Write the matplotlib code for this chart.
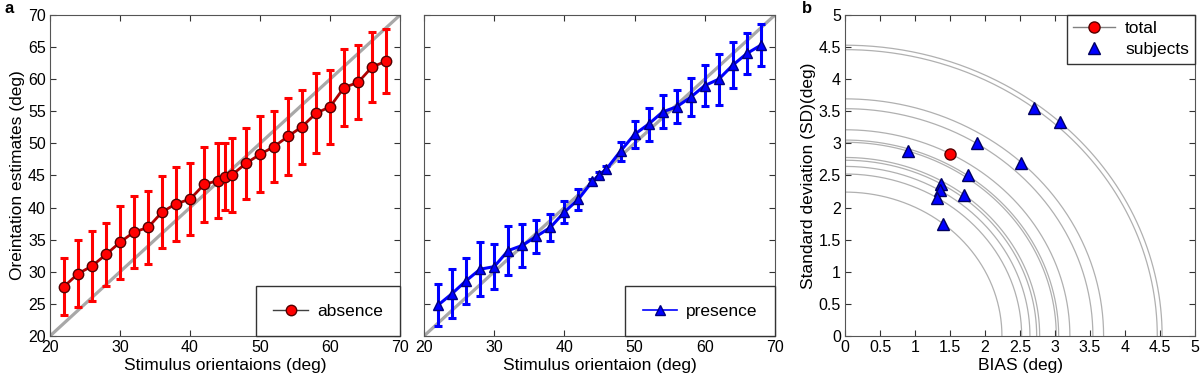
import numpy as np
import matplotlib
matplotlib.use('Agg')
from matplotlib import pyplot as plt
from matplotlib.lines import Line2D

plt.rcParams['font.family'] = ['Liberation Sans', 'DejaVu Sans']

# stimulus orientations (deg)
stim = [22, 24, 26, 28, 30, 32, 34, 36, 38, 40, 42, 44, 45, 46,
        48, 50, 52, 54, 56, 58, 60, 62, 64, 66, 68]

# estimates without the context
absence_mean = [27.7, 29.7, 30.9, 32.7, 34.6, 36.2, 36.9, 39.3, 40.6, 41.3,
                43.6, 44.2, 44.8, 45.1, 46.9, 48.3, 49.5, 51.1, 52.6, 54.7,
                55.7, 58.7, 59.5, 61.9, 62.8]
absence_err = [4.4, 5.25, 5.5, 4.95, 5.67, 5.67, 5.75, 5.62, 5.78, 5.58,
               5.85, 5.9, 5.2, 5.8, 5.55, 5.9, 5.5, 6.0, 5.75, 6.22,
               5.75, 6.02, 5.75, 5.47, 5.02]

# estimates with the context
presence_mean = [24.8, 26.6, 28.6, 30.4, 30.8, 33.3, 34.1, 35.5, 36.9, 39.3,
                 41.3, 44.1, 45.1, 46.0, 48.8, 51.4, 53.0, 54.9, 55.7, 57.2,
                 59.0, 60.0, 62.2, 64.0, 65.3]
presence_err = [3.3, 3.8, 3.55, 4.23, 3.5, 3.84, 3.4, 2.5, 2.15, 1.68,
                1.64, 0.4, 0.4, 0.4, 1.48, 2.07, 2.57, 2.57, 2.57, 2.94,
                3.25, 3.97, 3.56, 3.2, 3.3]

# panel b
subj_bias = [0.9, 1.88, 2.7, 3.07, 2.52, 1.75, 1.37, 1.35, 1.32, 1.7, 1.4]
subj_sd = [2.88, 3.0, 3.55, 3.33, 2.7, 2.5, 2.37, 2.27, 2.15, 2.2, 1.75]
total_bias = 1.5
total_sd = 2.84


def style_ax(ax):
    ax.tick_params(direction='in', top=True, right=True, labelsize=11.5,
                   length=4, pad=3, color='#333333')
    for s in ax.spines.values():
        s.set_color('#555555')
        s.set_linewidth(0.8)


fig = plt.figure(figsize=(12, 3.79), dpi=100)
ax1 = fig.add_axes([0.0417, 0.1135, 0.2917, 0.847])
ax2 = fig.add_axes([0.3533, 0.1135, 0.2925, 0.847])
ax3 = fig.add_axes([0.7042, 0.1135, 0.2917, 0.847])

diag = [20, 70]
for ax in (ax1, ax2):
    ax.plot(diag, diag, color='#a8a8a8', lw=2.3, zorder=1)
    ax.set_xlim(20, 70)
    ax.set_ylim(20, 70)
    ax.set_xticks(np.arange(20, 71, 10))
    ax.set_yticks(np.arange(20, 71, 5))
    style_ax(ax)

leg_kw = dict(loc='lower right', fontsize=12.5, fancybox=False,
              edgecolor='#333333', borderpad=1.0, handlelength=2.0,
              handletextpad=0.5, framealpha=1, borderaxespad=0)

ax1.errorbar(stim, absence_mean, yerr=absence_err, color='#b00000',
             ecolor='#ff0000', elinewidth=2.2, capsize=3, capthick=2.2,
             lw=2, marker='o', ms=7.5, mfc='#ff0000', mec='#550000', zorder=3)
ax1.set_xlabel('Stimulus orientaions (deg)', fontsize=12.5, labelpad=2)
ax1.set_ylabel('Oreintation estimates (deg)', fontsize=12.5, labelpad=2)
ax1.legend([Line2D([], [], color='#404040', lw=1, marker='o', ms=7.5,
                   mfc='#ff0000', mec='#550000')], ['absence'], **leg_kw)

ax2.errorbar(stim, presence_mean, yerr=presence_err, color='#0000ff',
             ecolor='#0000ff', elinewidth=2.2, capsize=3, capthick=2.2,
             lw=2.2, marker='^', ms=7.5, mfc='#0000ff', mec='#000080', zorder=3)
ax2.set_xlabel('Stimulus orientaion (deg)', fontsize=12.5, labelpad=2)
ax2.set_yticklabels([])
ax2.legend([Line2D([], [], color='#0000ff', lw=1.2, marker='^', ms=7.5,
                   mfc='#0000ff', mec='#000080')], ['presence'], **leg_kw)

# iso-error circles through each point
theta = np.linspace(0, np.pi / 2, 200)
radii = np.hypot(np.append(subj_bias, total_bias), np.append(subj_sd, total_sd))
for r in radii:
    ax3.plot(r * np.cos(theta), r * np.sin(theta), color='#b0b0b0', lw=0.9, zorder=1)
ax3.plot(total_bias, total_sd, 'o', ms=8, mfc='#ff0000', mec='#550000', zorder=3)
ax3.plot(subj_bias, subj_sd, '^', ms=8, mfc='#0000ff', mec='#000060', ls='none', zorder=3)
ax3.set_xlim(0, 5)
ax3.set_ylim(0, 5)
ticks_b = np.arange(0, 5.01, 0.5)
tick_lbl = ['0', '0.5', '1', '1.5', '2', '2.5', '3', '3.5', '4', '4.5', '5']
ax3.set_xticks(ticks_b)
ax3.set_yticks(ticks_b)
ax3.set_xticklabels(tick_lbl)
ax3.set_yticklabels(tick_lbl)
style_ax(ax3)
ax3.set_xlabel('BIAS (deg)', fontsize=12.5, labelpad=2)
ax3.set_ylabel('Standard deviation (SD)(deg)', fontsize=12.5, labelpad=2)
ax3.legend([Line2D([], [], color='#808080', lw=1, marker='o', ms=8,
                   mfc='#ff0000', mec='#550000'),
            Line2D([], [], ls='none', marker='^', ms=8,
                   mfc='#0000ff', mec='#000060')], ['total', 'subjects'],
           loc='upper right', fontsize=12.5, fancybox=False, edgecolor='#333333',
           borderpad=0.35, handlelength=2.4, handletextpad=0.6, framealpha=1,
           labelspacing=0.35, borderaxespad=0)

fig.text(0.004, 0.965, 'a', fontsize=12, fontweight='bold')
fig.text(0.668, 0.965, 'b', fontsize=12, fontweight='bold')

fig.savefig('out.png', dpi=100)
